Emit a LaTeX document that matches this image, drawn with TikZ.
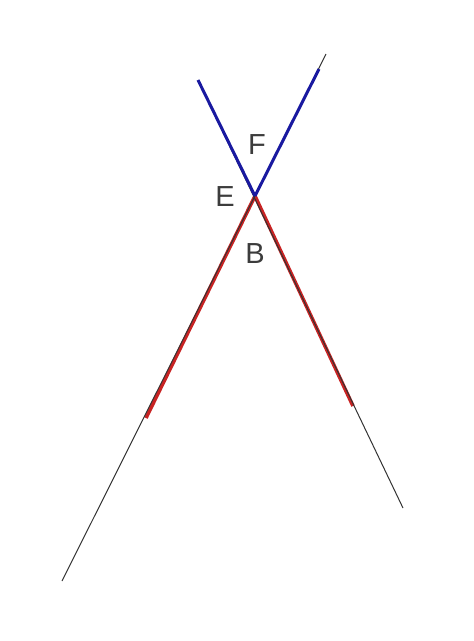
\documentclass[tikz,border=0pt]{standalone}
\usepackage{fontspec}
\setmainfont{Liberation Sans}
\definecolor{lineblue}{RGB}{25,25,160}
\definecolor{linered}{RGB}{200,35,35}
\definecolor{labelgray}{RGB}{60,60,60}
\begin{document}
\begin{tikzpicture}[x=1pt,y=-1pt,
        lbl/.style={text=labelgray,font=\fontsize{29}{34}\selectfont,inner sep=0pt}]
                \useasboundingbox (0,0) rectangle (474,641);
                \coordinate (x) at (255,196);
                \coordinate (ll) at (62,581);
                \coordinate (ur) at (326,54);
                \coordinate (lr) at (403,508);
                \coordinate (ul) at (198,80);
                \coordinate (bu) at (319,69);
                \coordinate (rl) at (146,418);
                \coordinate (rr) at (353,406);

                \path [-,draw=linered,line width=3.6pt] (x) edge (rl);
                \path [-,draw=linered,line width=3.6pt] (x) edge (rr);
                \path [-,draw=black!80,line width=1pt] (ll) edge (ur);
                \path [-,draw=black!80,line width=1pt] (lr) edge (ul);
                \path [-,draw=lineblue,line width=3pt] (x) edge (ul);
                \path [-,draw=lineblue,line width=3pt] (x) edge (bu);

                \node[lbl] (F) at (257,145) {F};
                \node[lbl] (E) at (225,197) {E};
                \node[lbl] (B) at (255,254) {B};
            \end{tikzpicture}
\end{document}
